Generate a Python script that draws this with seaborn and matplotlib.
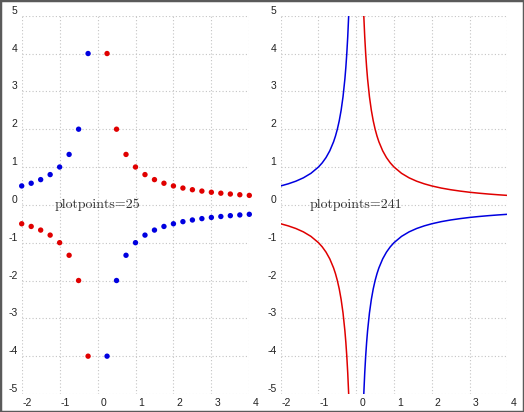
import matplotlib
matplotlib.use("Agg")
import matplotlib.pyplot as plt
import matplotlib.transforms as mtransforms
from matplotlib.patches import Rectangle
import seaborn as sns
import pandas as pd

# ---- data ----
x_pts = [-2, -1.75, -1.5, -1.25, -1, -0.75, -0.5, -0.25,
         0.25, 0.5, 0.75, 1, 1.25, 1.5, 1.75, 2, 2.25, 2.5, 2.75, 3, 3.25, 3.5, 3.75, 4]
red_pts = [-0.5, -0.571, -0.667, -0.8, -1.0, -1.333, -2.0, -4.0,
           4.0, 2.0, 1.333, 1.0, 0.8, 0.667, 0.571, 0.5, 0.444, 0.4, 0.364, 0.333, 0.308, 0.286, 0.267, 0.25]
blue_pts = [0.5, 0.571, 0.667, 0.8, 1.0, 1.333, 2.0, 4.0,
            -4.0, -2.0, -1.333, -1.0, -0.8, -0.667, -0.571, -0.5, -0.444, -0.4, -0.364, -0.333, -0.308, -0.286, -0.267, -0.25]

x_neg = [-2, -1.8, -1.6, -1.4, -1.2, -1.0, -0.9, -0.8, -0.7, -0.6, -0.55, -0.5,
         -0.45, -0.4, -0.35, -0.3, -0.275, -0.25, -0.225, -0.2]
red_neg = [-0.5, -0.556, -0.625, -0.714, -0.833, -1.0, -1.111, -1.25, -1.429, -1.667, -1.818, -2.0,
           -2.222, -2.5, -2.857, -3.333, -3.636, -4.0, -4.444, -5.0]
blue_neg = [0.5, 0.556, 0.625, 0.714, 0.833, 1.0, 1.111, 1.25, 1.429, 1.667, 1.818, 2.0,
            2.222, 2.5, 2.857, 3.333, 3.636, 4.0, 4.444, 5.0]
x_pos = [0.2, 0.225, 0.25, 0.275, 0.3, 0.35, 0.4, 0.45, 0.5, 0.55, 0.6, 0.7, 0.8, 0.9, 1.0,
         1.2, 1.4, 1.6, 1.8, 2.0, 2.25, 2.5, 2.75, 3.0, 3.25, 3.5, 3.75, 4.0]
red_pos = [5.0, 4.444, 4.0, 3.636, 3.333, 2.857, 2.5, 2.222, 2.0, 1.818, 1.667, 1.429, 1.25, 1.111, 1.0,
           0.833, 0.714, 0.625, 0.556, 0.5, 0.444, 0.4, 0.364, 0.333, 0.308, 0.286, 0.267, 0.25]
blue_pos = [-5.0, -4.444, -4.0, -3.636, -3.333, -2.857, -2.5, -2.222, -2.0, -1.818, -1.667, -1.429, -1.25, -1.111, -1.0,
            -0.833, -0.714, -0.625, -0.556, -0.5, -0.444, -0.4, -0.364, -0.333, -0.308, -0.286, -0.267, -0.25]

x_ticks = [-2, -1, 0, 1, 2, 3, 4]
y_ticks = [-5, -4, -3, -2, -1, 0, 1, 2, 3, 4, 5]
titles = ["plotpoints=25", "plotpoints=241"]

RED = "#e00000"
BLUE = "#0000e0"

sns.set_style("white")
plt.rcParams["font.family"] = ["Liberation Sans", "DejaVu Sans"]

fig = plt.figure(figsize=(5.24, 4.12), dpi=100)
W, H = 524, 412
def axes_px(l, r, t, b):
    return fig.add_axes([l / W, (H - b) / H, (r - l) / W, (b - t) / H])

ax1 = axes_px(21.7, 249.3, 15.7, 394)
ax2 = axes_px(280.7, 507.3, 15.7, 394)

# left panel: points
df_pts = pd.DataFrame({
    "x": x_pts + x_pts,
    "y": red_pts + blue_pts,
    "s": ["red"] * len(x_pts) + ["blue"] * len(x_pts),
})
sns.scatterplot(data=df_pts, x="x", y="y", hue="s", palette={"red": RED, "blue": BLUE},
                s=15, linewidth=0, legend=False, ax=ax1, zorder=3, clip_on=False)

# right panel: curves
for xs, ys, c in [(x_neg, red_neg, RED), (x_pos, red_pos, RED),
                  (x_neg, blue_neg, BLUE), (x_pos, blue_pos, BLUE)]:
    sns.lineplot(x=xs, y=ys, color=c, linewidth=1.1, sort=False, estimator=None, ax=ax2, zorder=3)

for ax, title in zip([ax1, ax2], titles):
    ax.set_xlim(-2, 4)
    ax.set_ylim(-5, 5)
    ax.set_xticks(x_ticks)
    ax.set_yticks(y_ticks)
    ax.set_xticklabels([str(v) for v in x_ticks])
    ax.set_yticklabels([str(v) for v in y_ticks])
    ax.set_xlabel("")
    ax.set_ylabel("")
    for sp in ax.spines.values():
        sp.set_visible(False)
    ax.grid(True, color="#c4c4c4", linestyle=(0, (1, 2)), linewidth=0.8)
    ax.set_axisbelow(True)
    ax.tick_params(length=0, labelsize=7.5, colors="#222222", pad=3)
    ax.patch.set_alpha(0)
    offx = mtransforms.ScaledTranslation(0.06, 0, fig.dpi_scale_trans)
    offy = mtransforms.ScaledTranslation(0, 0.06, fig.dpi_scale_trans)
    for lab in ax.get_xticklabels():
        lab.set_transform(lab.get_transform() + offx)
    for lab in ax.get_yticklabels():
        lab.set_transform(lab.get_transform() + offy)
    ax.text(0, 0, title, ha="center", va="center", family="cmr10", fontsize=10,
            color="#333333", zorder=4)

fig.patches.append(Rectangle((0, 0), 1, 1, transform=fig.transFigure, fill=False,
                             edgecolor="#5a5a5a", linewidth=2.5, zorder=10))

fig.savefig("out.png", dpi=100)
